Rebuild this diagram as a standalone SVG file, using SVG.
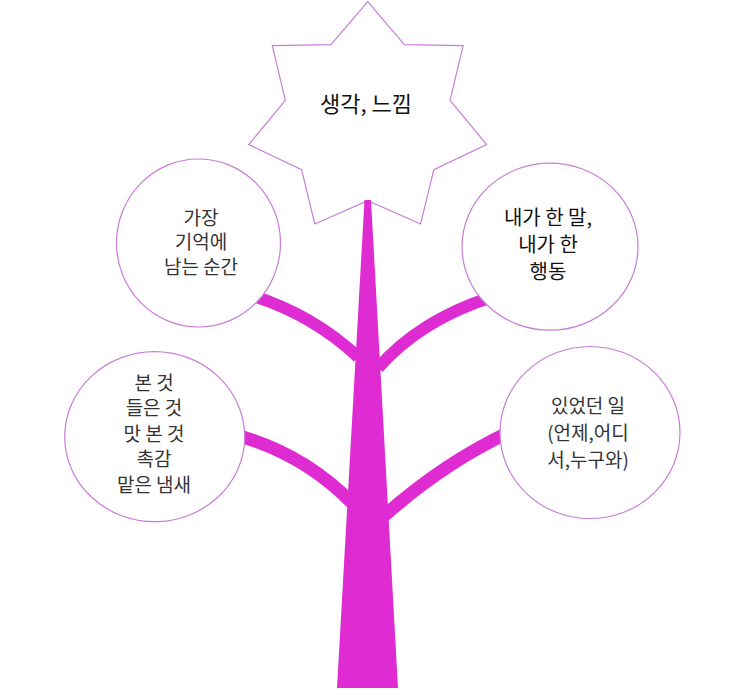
<svg xmlns="http://www.w3.org/2000/svg" width="743" height="695" viewBox="0 0 743 695">
<style>
.bg{fill:#ffffff}
.node{fill:#ffffff;stroke:#C97DD8;stroke-width:1.2}
.branch{fill:none;stroke:#DF2BD2;stroke-linecap:butt}
.trunk{fill:#DF2BD2}
text{font-family:"Noto Sans CJK KR","Noto Sans",sans-serif;text-anchor:middle}
.t1{font-size:19px;fill:#333333}
.t2{font-size:20px;fill:#111111}
.ts{font-size:22px;fill:#111111}
</style>
<rect class="bg" x="0" y="0" width="743" height="695"/>
<g id="connectors">
<path class="branch" stroke-width="12" d="M250 295 Q312 314 358 357"/>
<path class="branch" stroke-width="12" d="M492 297 Q420 320 378 368"/>
<path class="branch" stroke-width="13" d="M232 434 Q302 452 352 503"/>
<path class="branch" stroke-width="13" d="M512 431 Q445 462 384 516"/>
</g>
<g id="star">
<polygon class="node" points="367.7,1.6 404.4,44.7 463.1,45.7 450.1,100.4 486.6,144.6 433.8,169.7 420.6,224 367.7,200.6 314.8,224 301.6,169.7 248.8,144.6 285.3,100.4 272.3,45.7 331,44.7"/>
<text class="ts" x="366" y="112">생각, 느낌</text>
</g>
<g id="trunk">
<polygon class="trunk" points="364.5,200 371,200 398,688 337,688"/>
</g>
<g id="node-moment">
<ellipse class="node" cx="198.5" cy="243" rx="82" ry="84"/>
<text class="t1" x="201" y="224.5">가장</text>
<text class="t1" x="201" y="249">기억에</text>
<text class="t1" x="201" y="273.5">남는 순간</text>
</g>
<g id="node-words">
<ellipse class="node" cx="550" cy="246.7" rx="88" ry="83.5"/>
<text class="t2" x="548" y="225">내가 한 말,</text>
<text class="t2" x="548" y="252">내가 한</text>
<text class="t2" x="548" y="279">행동</text>
</g>
<g id="node-senses">
<ellipse class="node" cx="154.7" cy="436.7" rx="90" ry="85"/>
<text class="t1" x="154" y="390">본 것</text>
<text class="t1" x="154" y="415.4">들은 것</text>
<text class="t1" x="154" y="440.8">맛 본 것</text>
<text class="t1" x="154" y="466.2">촉감</text>
<text class="t1" x="154" y="491.6">맡은 냄새</text>
</g>
<g id="node-event">
<ellipse class="node" cx="590" cy="432.5" rx="90" ry="86"/>
<text class="t1" x="588" y="413.3">있었던 일</text>
<text class="t1" x="588" y="440">(언제,어디</text>
<text class="t1" x="588" y="466.6">서,누구와)</text>
</g>
</svg>
